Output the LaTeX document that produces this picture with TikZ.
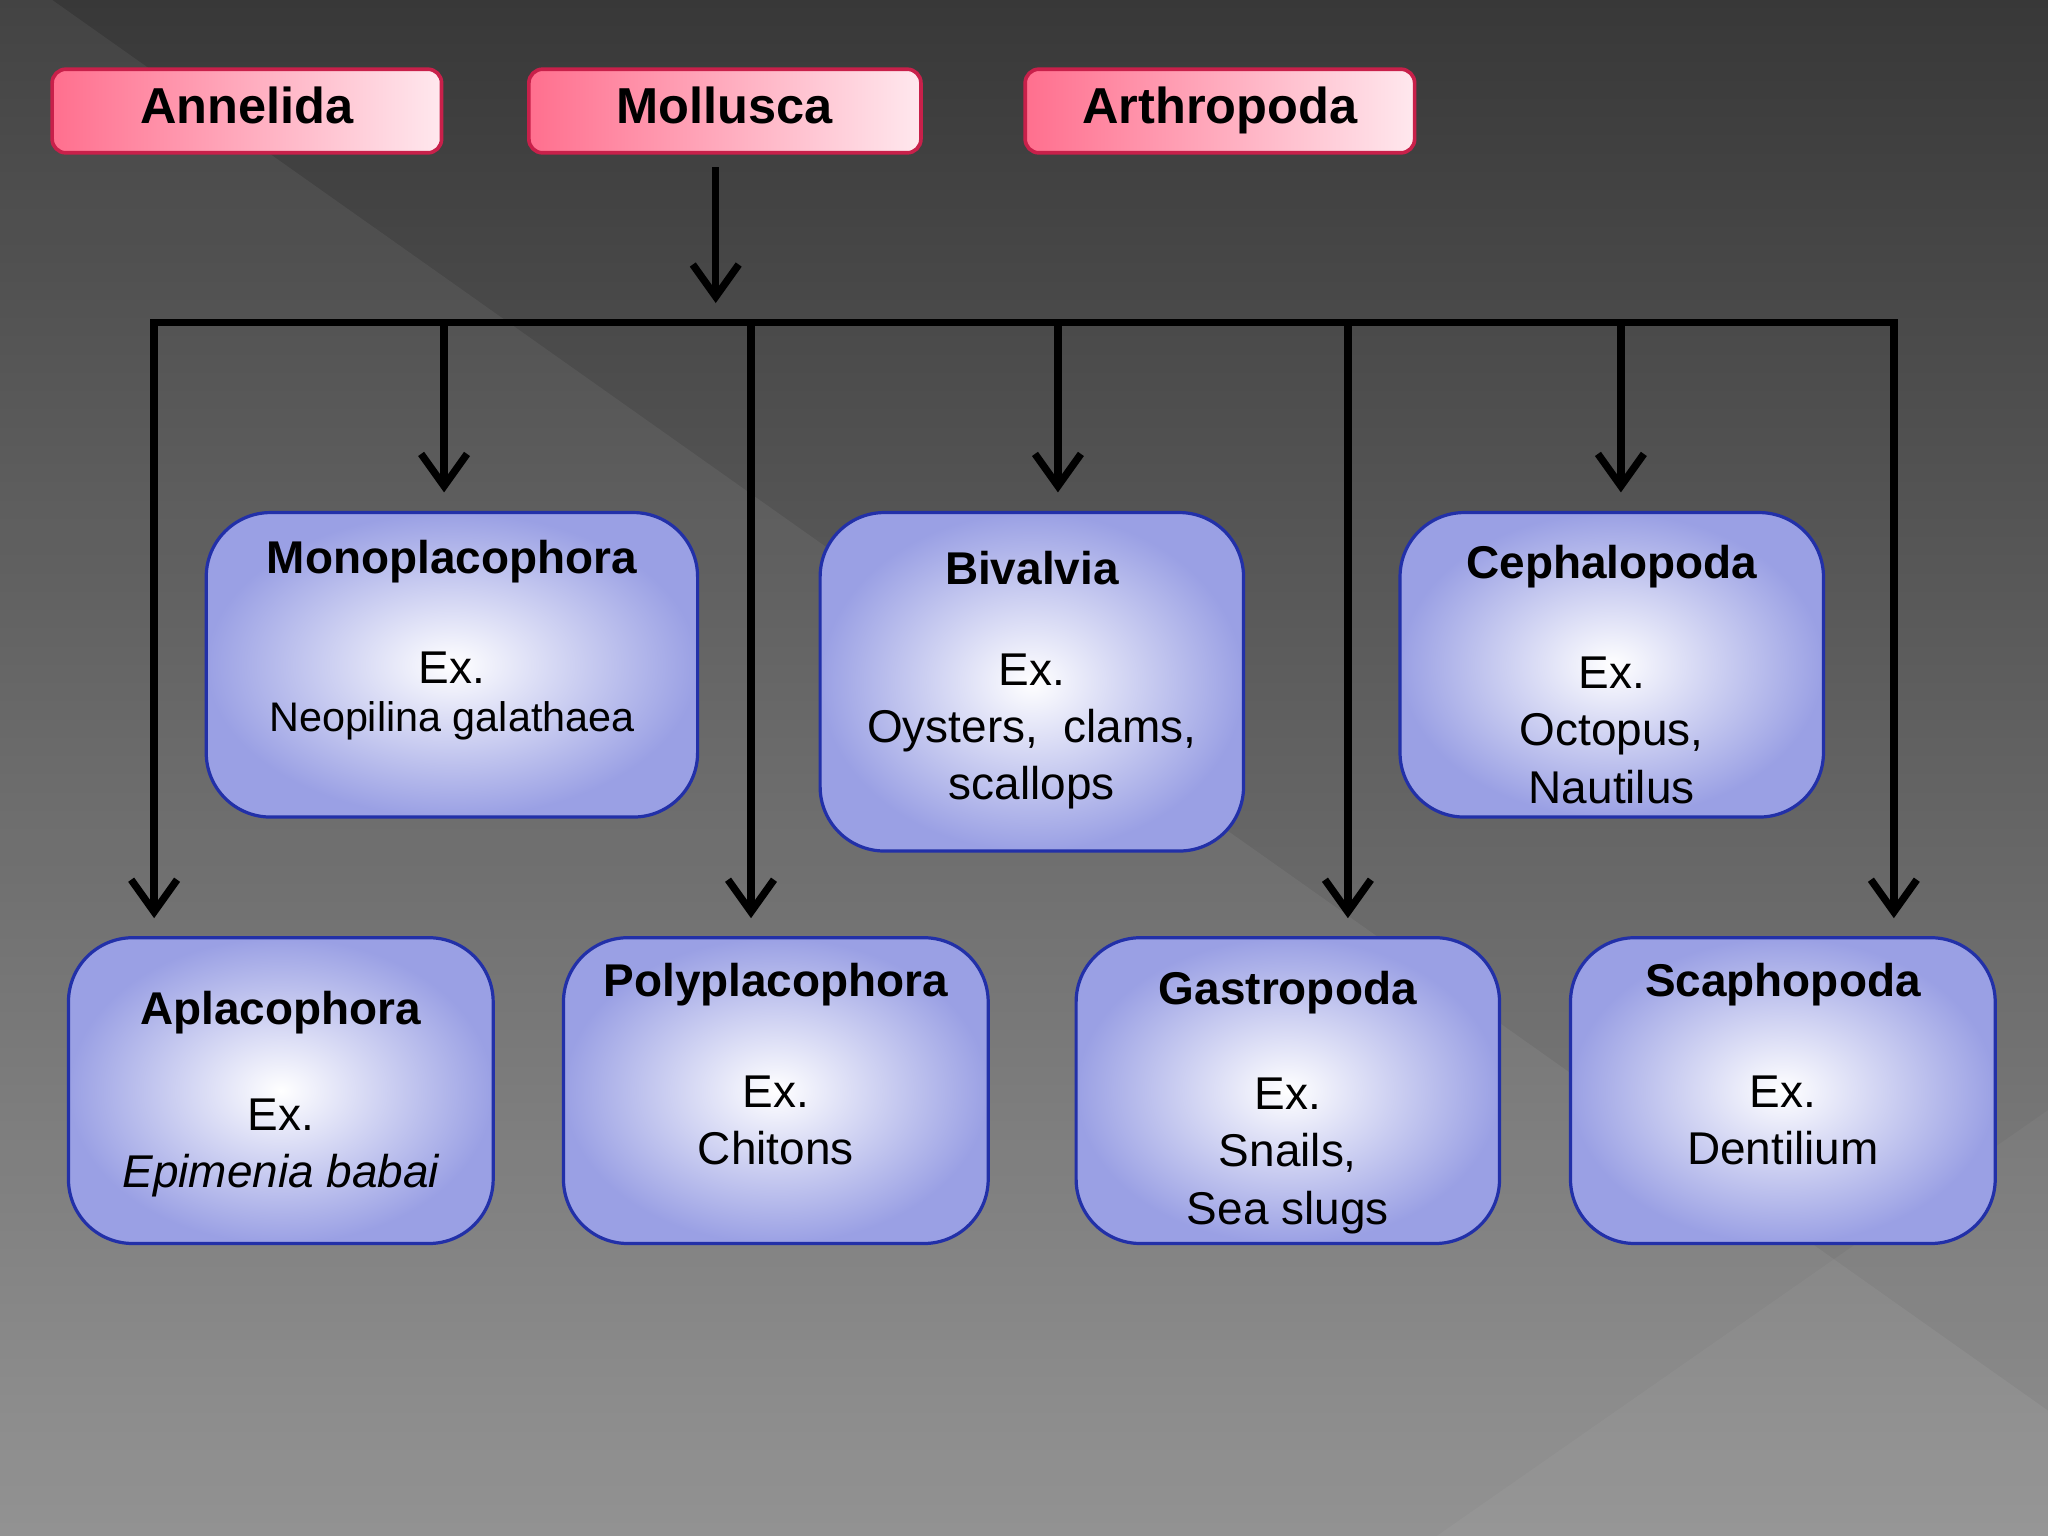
\documentclass[tikz,border=0pt]{standalone}
\usepackage{fontspec}
\setmainfont{Liberation Sans}
\usetikzlibrary{arrows.meta}
\definecolor{pinkA}{HTML}{FF6F8E}
\definecolor{pinkB}{HTML}{FFE8EE}
\definecolor{pinkE}{HTML}{C8204A}
\definecolor{blueA}{HTML}{9AA0E4}
\definecolor{blueE}{HTML}{2230A8}
\begin{document}
\begin{tikzpicture}[x=0.01cm,y=-0.01cm,
  phy/.style={draw=pinkE,line width=0.8pt,rounded corners=3pt,left color=pinkA,right color=pinkB,font=\bfseries\fontsize{11pt}{13pt}\selectfont,inner sep=0pt,minimum height=0.64cm,text height=8pt,text depth=2.5pt},
  cls/.style={draw=blueE,line width=0.7pt,rounded corners=14pt,inner color=white,outer color=blueA,inner sep=0pt},
  ttl/.style={font=\bfseries\fontsize{10pt}{12pt}\selectfont},
  ex/.style={font=\fontsize{10pt}{12.5pt}\selectfont,align=center},
  ln/.style={line width=1.6pt,black},
  arr/.style={ln,-{Straight Barb[length=7pt,width=10pt,line width=1.6pt]}}]
\useasboundingbox (0,0) rectangle (1568,1176);
\shade[top color=black!78,bottom color=black!45] (0,0) rectangle (1568,1176);
\fill[white,opacity=0.06] (0,0) -- (40,0) -- (1568,1080) -- (1568,1176) -- (0,1176) -- cycle;
\fill[white,opacity=0.04] (1100,1176) -- (1568,850) -- (1568,1176) -- cycle;
% phyla
\node[phy,minimum width=2.98cm] (ann) at (189,85) {Annelida};
\node[phy,minimum width=3.00cm] (mol) at (555,85) {Mollusca};
\node[phy,minimum width=2.98cm] (art) at (934,85) {Arthropoda};
% classes
\node[cls,minimum width=3.76cm,minimum height=2.33cm] (mono) at (346,509) {};
\node[cls,minimum width=3.24cm,minimum height=2.59cm] (biv) at (790,522) {};
\node[cls,minimum width=3.24cm,minimum height=2.33cm] (ceph) at (1234,509) {};
\node[cls,minimum width=3.25cm,minimum height=2.34cm] (apla) at (215,835) {};
\node[cls,minimum width=3.25cm,minimum height=2.34cm] (poly) at (594,835) {};
\node[cls,minimum width=3.24cm,minimum height=2.34cm] (gast) at (986,835) {};
\node[cls,minimum width=3.25cm,minimum height=2.34cm] (scap) at (1365,835) {};
\node[ttl] at (346,430) {Monoplacophora};
\node[ex] at (346,533) {Ex.\\[-2pt]\fontsize{9pt}{11pt}\selectfont Neopilina galathaea};
\node[ttl] at (790,435) {Bivalvia};
\node[ex] at (790,560) {Ex.\\Oysters,\ \ clams,\\scallops};
\node[ttl] at (1234,434) {Cephalopoda};
\node[ex] at (1234,559) {Ex.\\Octopus,\\Nautilus};
\node[ttl] at (215,775) {Aplacophora};
\node[ex] at (215,879) {Ex.\\\itshape Epimenia babai};
\node[ttl] at (594,754) {Polyplacophora};
\node[ex] at (594,858) {Ex.\\Chitons};
\node[ttl] at (986,760) {Gastropoda};
\node[ex] at (986,885) {Ex.\\Snails,\\Sea slugs};
\node[ttl] at (1365,754) {Scaphopoda};
\node[ex] at (1365,858) {Ex.\\Dentilium};
% connectors
\coordinate (ms) at (548,128);
\coordinate (bl) at (118,247); \coordinate (br) at (1450,247);
\draw[arr] (ms) -- (548,232);
\draw[ln,line cap=rect] (bl) -- (br);
\draw[arr] (bl) -- (118,703);
\draw[arr] (340,247) -- (340,377);
\draw[arr] (575,247) -- (575,703);
\draw[arr] (810,247) -- (810,377);
\draw[arr] (1032,247) -- (1032,703);
\draw[arr] (1241,247) -- (1241,377);
\draw[arr] (br) -- (1450,703);
\end{tikzpicture}
\end{document}
